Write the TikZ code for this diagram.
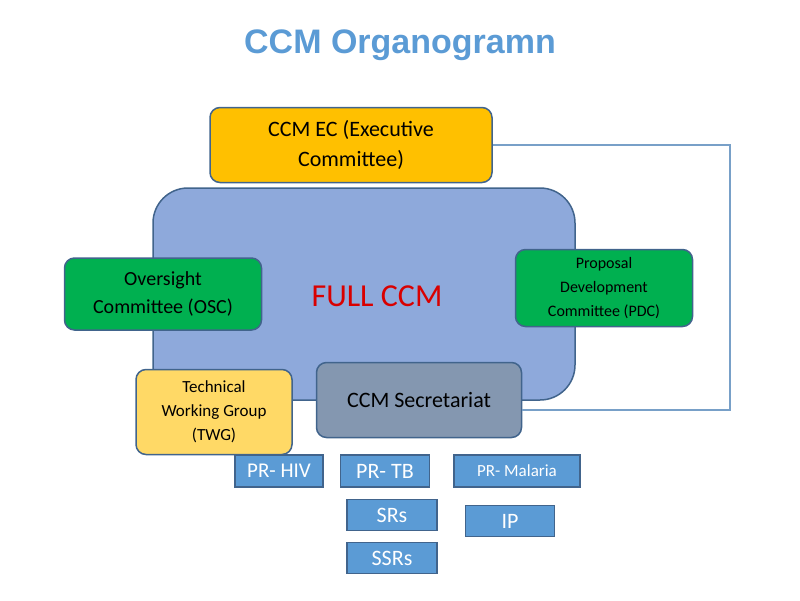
\documentclass[tikz,border=0pt]{standalone}
\usepackage{fontspec}
\setmainfont{Carlito}
\newfontfamily\titlefont{Liberation Sans}
\usetikzlibrary{positioning}
\definecolor{titleblue}{RGB}{91,155,213}
\definecolor{fullfill}{RGB}{142,169,219}
\definecolor{edgeblue}{RGB}{65,100,140}
\definecolor{ecfill}{RGB}{255,192,0}
\definecolor{grn}{RGB}{0,176,80}
\definecolor{twgfill}{RGB}{255,217,102}
\definecolor{secfill}{RGB}{132,151,176}
\definecolor{prfill}{RGB}{91,155,213}
\definecolor{linkblue}{RGB}{120,160,200}
\begin{document}
\begin{tikzpicture}[x=1pt,y=-1pt,
	box/.style={draw=edgeblue,line width=1.5pt,rounded corners=10pt,align=center,inner sep=0pt},
	pr/.style={draw=edgeblue,line width=1.3pt,fill=prfill,text=white,inner sep=0pt},
	]
	\useasboundingbox (0,0) rectangle (800,600);
	\node[font=\titlefont\bfseries\fontsize{34}{40}\selectfont,text=titleblue] (title) at (400,45) {CCM Organogramn};
	%big box
	\node[box,fill=fullfill,rounded corners=35pt,minimum width=422pt,minimum height=212pt] (full) at (364,294) {};
	\node[font=\fontsize{32}{38}\selectfont,text=red!85!black] (fulltxt) at (377,296) {FULL CCM};
	%committees
	\node[box,fill=ecfill,minimum width=282pt,minimum height=75pt,font=\fontsize{22}{30}\selectfont] (ec) at (351,145) {CCM EC (Executive\\Committee)};
	\node[box,fill=grn,minimum width=197pt,minimum height=72pt,font=\fontsize{20}{28}\selectfont] (osc) at (163,294) {Oversight\\Committee (OSC)};
	\node[box,fill=grn,minimum width=177pt,minimum height=77pt,font=\fontsize{16}{24}\selectfont] (pdc) at (604,288) {Proposal\\Development\\Committee (PDC)};
	\node[box,fill=twgfill,minimum width=156pt,minimum height=85pt,font=\fontsize{17}{24}\selectfont] (twg) at (214,412) {Technical\\Working Group\\(TWG)};
	\node[box,fill=secfill,minimum width=205pt,minimum height=75pt,font=\fontsize{22}{28}\selectfont] (sec) at (419,400) {CCM Secretariat};
	%implementers
	\node[pr,minimum width=88pt,minimum height=32pt,font=\fontsize{21}{24}\selectfont] (hiv) at (279,471) {PR- HIV};
	\node[pr,minimum width=89pt,minimum height=32pt,font=\fontsize{22}{24}\selectfont] (tb) at (385,471) {PR- TB};
	\node[pr,minimum width=126pt,minimum height=32pt,font=\fontsize{17}{24}\selectfont] (mal) at (517,471) {PR- Malaria};
	\node[pr,minimum width=90pt,minimum height=31pt,font=\fontsize{22}{24}\selectfont] (srs) at (392,515) {SRs};
	\node[pr,minimum width=89pt,minimum height=31pt,font=\fontsize{22}{24}\selectfont] (ip) at (510,521) {IP};
	\node[pr,minimum width=90pt,minimum height=31pt,font=\fontsize{22}{24}\selectfont] (ssrs) at (392,558) {SSRs};
	%link
	\coordinate (c1) at (730,145);
	\coordinate (c2) at (730,410);
	\draw[linkblue,line width=1.2pt] (ec.east) -- (c1) -- (c2) -- (sec.east |- c2);
\end{tikzpicture}
\end{document}
